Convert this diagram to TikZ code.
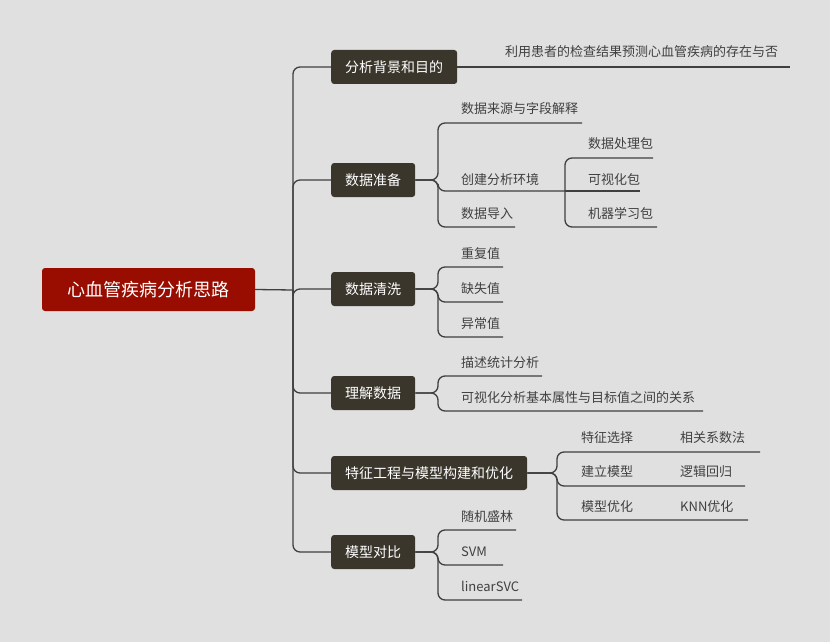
\documentclass[tikz,border=0pt]{standalone}
\usepackage{fontspec}
\setmainfont{Noto Sans CJK SC}
\begin{document}
\begin{tikzpicture}[x=1pt,y=-1pt,
 conn/.style={draw=black!75,line width=1.3pt,rounded corners=7pt},
 rootbox/.style={fill=red!55!black!90!orange,rounded corners=3pt,text=white,font=\fontsize{18}{20}\selectfont,minimum height=43pt,minimum width=213pt,inner sep=0pt},
 lv1/.style={fill=black!78!olive,rounded corners=3pt,text=white,font=\fontsize{14}{16}\selectfont,minimum height=34pt,inner xsep=14pt,anchor=west},
 lv2/.style={text=black!75,font=\fontsize{13}{15}\selectfont,anchor=base west,inner sep=0pt}]
\fill[black!12] (0,0) rectangle (830,642);
\useasboundingbox (0,0) rectangle (830,642);
\node[rootbox] (root) at (148.5,289.5) {心血管疾病分析思路};
\node[lv1] (b1) at (331,67) {分析背景和目的};
\node[lv1] (b2) at (331,180) {数据准备};
\node[lv1] (b3) at (331,289) {数据清洗};
\node[lv1] (b4) at (331,393) {理解数据};
\node[lv1] (b5) at (331,473) {特征工程与模型构建和优化};
\node[lv1] (b6) at (331,552) {模型对比};
\draw[conn] (root.east) -- (293,290);
\foreach \b in {b1,b2,b3,b4,b5,b6}{\draw[conn] (293,290) |- (\b.west);}
% b1
\node[lv2] (t11) at (505,57) {利用患者的检查结果预测心血管疾病的存在与否};
\draw[conn] (b1.east) -- (790,67);
% b2
\node[lv2] (t21) at (461,113) {数据来源与字段解释};
\node[lv2] (t22) at (461,184) {创建分析环境};
\node[lv2] (t23) at (461,218) {数据导入};
\draw[conn] (b2.east) -- (438,180) |- (582,123);
\draw[conn] (b2.east) -- (438,180) |- (565,191);
\draw[conn] (b2.east) -- (438,180) |- (515,227);
\node[lv2] (t24) at (588,148) {数据处理包};
\node[lv2] (t25) at (588,184) {可视化包};
\node[lv2] (t26) at (588,218) {机器学习包};
\draw[conn] (t22.east) ++(0,0) coordinate (e22);
\draw[conn] (565,191) |- (653,158);
\draw[conn] (565,191) -- (640,191);
\draw[conn] (565,191) |- (657,227);
% b3
\node[lv2] (t31) at (461,258) {重复值};
\node[lv2] (t32) at (461,293) {缺失值};
\node[lv2] (t33) at (461,328) {异常值};
\draw[conn] (b3.east) -- (438,289) |- (503,267);
\draw[conn] (b3.east) -- (438,289) |- (503,302);
\draw[conn] (b3.east) -- (438,289) |- (503,337);
% b4
\node[lv2] (t41) at (461,367) {描述统计分析};
\node[lv2] (t42) at (461,402) {可视化分析基本属性与目标值之间的关系};
\draw[conn] (b4.east) -- (438,393) |- (542,376);
\draw[conn] (b4.east) -- (438,393) |- (703,411);
% b5
\node[lv2] (t51) at (581,442) {特征选择};
\node[lv2] (t52) at (581,476) {建立模型};
\node[lv2] (t53) at (581,511) {模型优化};
\node[lv2] (t54) at (680,442) {相关系数法};
\node[lv2] (t55) at (680,476) {逻辑回归};
\node[lv2] (t56) at (680,511) {KNN优化};
\draw[conn] (b5.east) -- (557,473) |- (660,452) -- (760,452);
\draw[conn] (b5.east) -- (557,473) |- (660,486) -- (745,486);
\draw[conn] (b5.east) -- (557,473) |- (660,520) -- (748,520);
% b6
\node[lv2] (t61) at (461,521) {随机盛林};
\node[lv2] (t62) at (461,556) {SVM};
\node[lv2] (t63) at (461,591) {linearSVC};
\draw[conn] (b6.east) -- (438,552) |- (516,530);
\draw[conn] (b6.east) -- (438,552) |- (503,565);
\draw[conn] (b6.east) -- (438,552) |- (522,600);
\end{tikzpicture}
\end{document}
